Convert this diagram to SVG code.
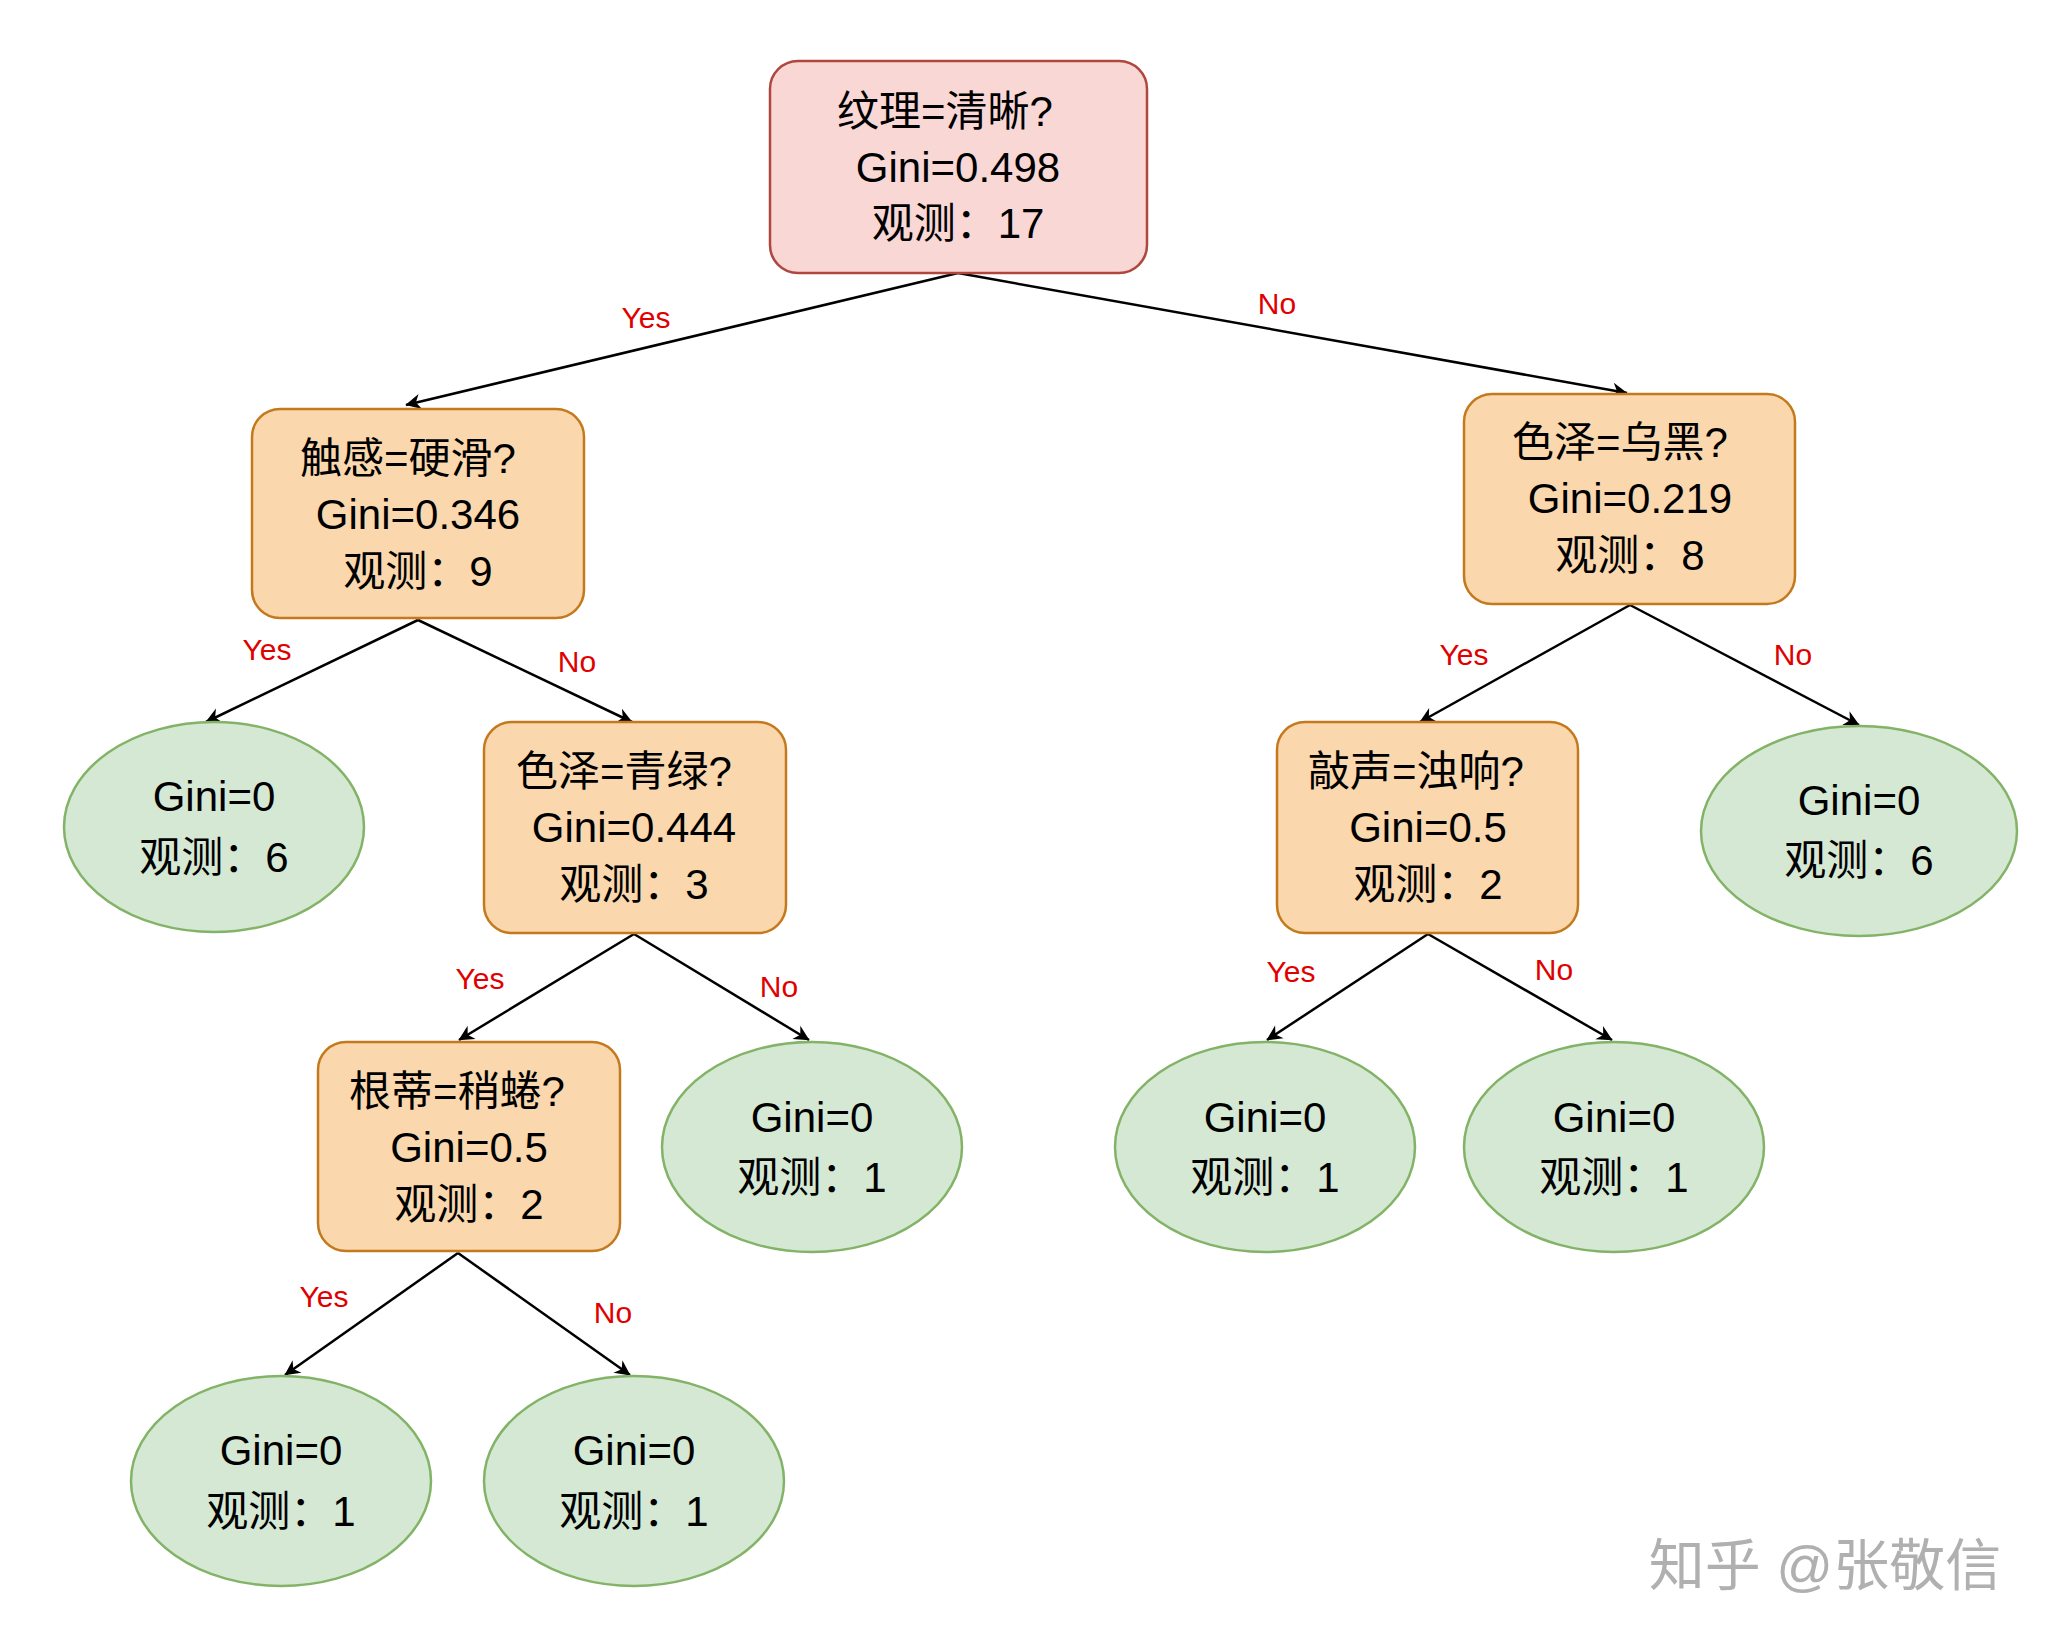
<svg xmlns="http://www.w3.org/2000/svg" width="2070" height="1641" viewBox="0 0 2070 1641">
<style>
text{font-family:"Liberation Sans","Noto Sans CJK SC",sans-serif;text-anchor:middle;dominant-baseline:central}
.t{font-size:42px;fill:#000}
.l{font-size:30px;fill:#e00000}
.root{fill:#f8d7d5;stroke:#b0473f;stroke-width:2.5}
.dec{fill:#fad7ad;stroke:#c47a1c;stroke-width:2.5}
.leaf{fill:#d5e8d4;stroke:#82b366;stroke-width:2.5}
.e{stroke:#000;stroke-width:2.5;fill:none;marker-end:url(#a)}
</style>
<defs><marker id="a" viewBox="0 0 10 10" refX="9" refY="5" markerWidth="7" markerHeight="7" orient="auto" markerUnits="userSpaceOnUse" style="overflow:visible"><path d="M0,0 L10,5 L0,10 L3,5 Z" fill="#000" transform="scale(2.2) translate(-5.5,-2.7)"/></marker></defs>
<rect width="2070" height="1641" fill="#fff"/>
<g id="edges">
<line class="e" x1="958" y1="273" x2="406" y2="405"/>
<line class="e" x1="958" y1="273" x2="1627" y2="393"/>
<line class="e" x1="418" y1="620" x2="206" y2="722"/>
<line class="e" x1="418" y1="620" x2="632" y2="722"/>
<line class="e" x1="1630" y1="605" x2="1420" y2="722"/>
<line class="e" x1="1630" y1="605" x2="1859" y2="725"/>
<line class="e" x1="634" y1="934" x2="459" y2="1040"/>
<line class="e" x1="634" y1="934" x2="809" y2="1040"/>
<line class="e" x1="1428" y1="934" x2="1267" y2="1040"/>
<line class="e" x1="1428" y1="934" x2="1612" y2="1040"/>
<line class="e" x1="458" y1="1253" x2="285" y2="1375"/>
<line class="e" x1="458" y1="1253" x2="630" y2="1375"/>
<text class="l" x="646" y="317">Yes</text><text class="l" x="1277" y="303">No</text>
<text class="l" x="267" y="649">Yes</text><text class="l" x="577" y="661">No</text>
<text class="l" x="1464" y="654">Yes</text><text class="l" x="1793" y="654">No</text>
<text class="l" x="480" y="978">Yes</text><text class="l" x="779" y="986">No</text>
<text class="l" x="1291" y="971">Yes</text><text class="l" x="1554" y="969">No</text>
<text class="l" x="324" y="1296">Yes</text><text class="l" x="613" y="1312">No</text>
</g>
<g id="root"><rect class="root" x="770" y="61" width="377" height="212" rx="28"/>
<text class="t" x="945" y="111">纹理=清晰?</text><text class="t" x="958" y="167">Gini=0.498</text><text class="t" x="958" y="223">观测：17</text></g>
<g id="nA"><rect class="dec" x="252" y="409" width="332" height="209" rx="28"/>
<text class="t" x="408" y="458">触感=硬滑?</text><text class="t" x="418" y="514">Gini=0.346</text><text class="t" x="418" y="571">观测：9</text></g>
<g id="nB"><rect class="dec" x="1464" y="394" width="331" height="210" rx="28"/>
<text class="t" x="1620" y="442">色泽=乌黑?</text><text class="t" x="1630" y="498">Gini=0.219</text><text class="t" x="1630" y="555">观测：8</text></g>
<g id="nC"><rect class="dec" x="484" y="722" width="302" height="211" rx="28"/>
<text class="t" x="624" y="771">色泽=青绿?</text><text class="t" x="634" y="827">Gini=0.444</text><text class="t" x="634" y="884">观测：3</text></g>
<g id="nD"><rect class="dec" x="1277" y="722" width="301" height="211" rx="28"/>
<text class="t" x="1416" y="771">敲声=浊响?</text><text class="t" x="1428" y="827">Gini=0.5</text><text class="t" x="1428" y="884">观测：2</text></g>
<g id="nE"><rect class="dec" x="318" y="1042" width="302" height="209" rx="28"/>
<text class="t" x="457" y="1091">根蒂=稍蜷?</text><text class="t" x="469" y="1147">Gini=0.5</text><text class="t" x="469" y="1204">观测：2</text></g>
<g id="l1"><ellipse class="leaf" cx="214" cy="827" rx="150" ry="105"/><text class="t" x="214" y="796">Gini=0</text><text class="t" x="214" y="857">观测：6</text></g>
<g id="l2"><ellipse class="leaf" cx="1859" cy="831" rx="158" ry="105"/><text class="t" x="1859" y="800">Gini=0</text><text class="t" x="1859" y="860">观测：6</text></g>
<g id="l3"><ellipse class="leaf" cx="812" cy="1147" rx="150" ry="105"/><text class="t" x="812" y="1117">Gini=0</text><text class="t" x="812" y="1177">观测：1</text></g>
<g id="l4"><ellipse class="leaf" cx="1265" cy="1147" rx="150" ry="105"/><text class="t" x="1265" y="1117">Gini=0</text><text class="t" x="1265" y="1177">观测：1</text></g>
<g id="l5"><ellipse class="leaf" cx="1614" cy="1147" rx="150" ry="105"/><text class="t" x="1614" y="1117">Gini=0</text><text class="t" x="1614" y="1177">观测：1</text></g>
<g id="l6"><ellipse class="leaf" cx="281" cy="1481" rx="150" ry="105"/><text class="t" x="281" y="1450">Gini=0</text><text class="t" x="281" y="1511">观测：1</text></g>
<g id="l7"><ellipse class="leaf" cx="634" cy="1481" rx="150" ry="105"/><text class="t" x="634" y="1450">Gini=0</text><text class="t" x="634" y="1511">观测：1</text></g>
<text x="1825" y="1565" style="font-size:56px;fill:#b0b0b0">知乎 @张敬信</text>
</svg>
